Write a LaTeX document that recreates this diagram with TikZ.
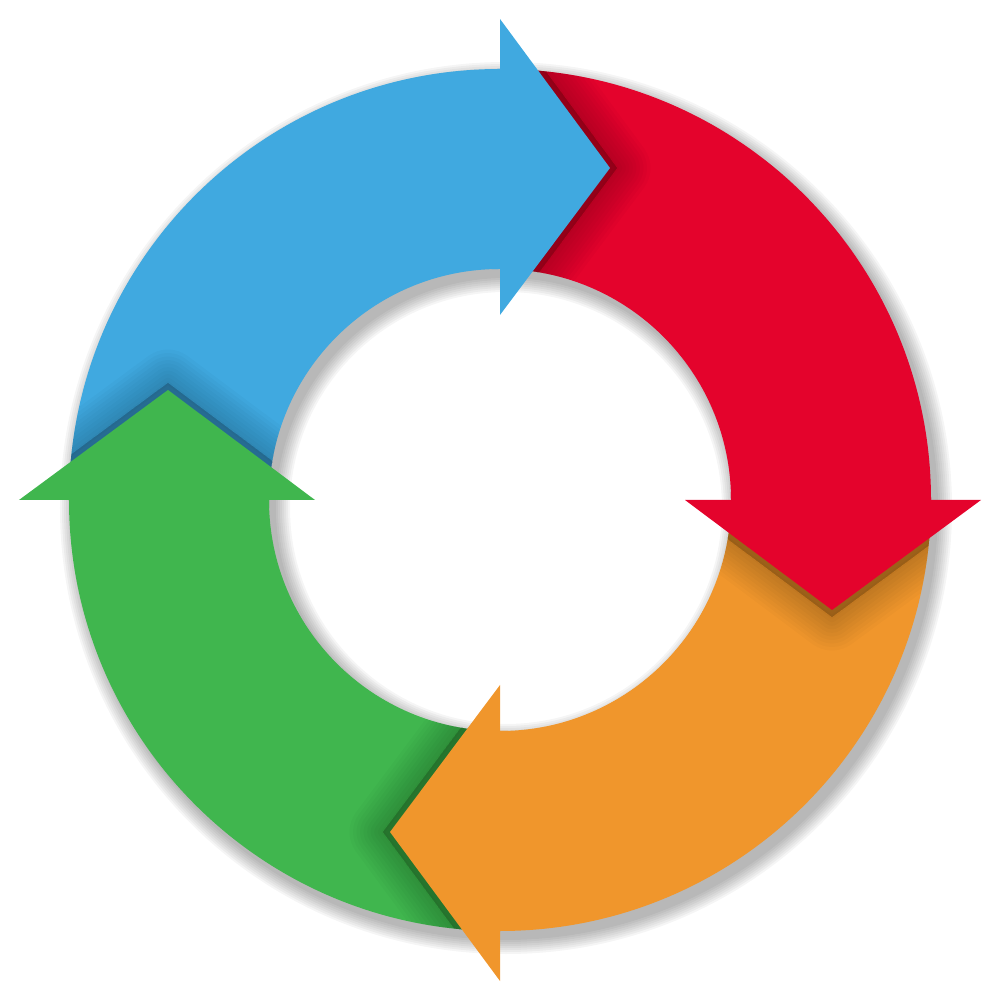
\documentclass[tikz,border=0pt]{standalone}
\usetikzlibrary{calc}

\definecolor{cycleblue}{RGB}{64,169,224}
\definecolor{cyclered}{RGB}{228,3,44}
\definecolor{cycleorange}{RGB}{240,150,44}
\definecolor{cyclegreen}{RGB}{64,182,78}

\begin{document}
\begin{tikzpicture}[x=1cm, y=1cm,
  ring shadow/.style={fill=black, opacity=0.04, even odd rule},
  head shadow/.style={fill=black, draw=black, opacity=0.02, line join=round},
  band/.style={fill=#1},
  head/.style={fill=#1}]
\useasboundingbox (-5,-5) rectangle (5,5);

% soft shadow of the whole ring, thrown down and to the right
\foreach \d in {0.01,0.03,...,0.17}
  \fill[ring shadow, shift={(0.06,-0.08)}] (0,0) circle (4.31+\d) (0,0) circle (2.31-\d);

% bands, each one quarter of the ring
\foreach \s/\c in {180/cycleblue, 90/cyclered, 0/cycleorange, -90/cyclegreen}
  \fill[band=\c] (\s:4.31) arc[start angle=\s, end angle=\s-90, radius=4.31]
    -- (\s-90:2.31) arc[start angle=\s-90, end angle=\s, radius=2.31] -- cycle;

% end of each band again, a little longer, so that no seam shows under its head
\foreach \s/\c in {180/cycleblue, 90/cyclered, 0/cycleorange, -90/cyclegreen}
  \fill[band=\c] (\s-88:4.31) arc[start angle=\s-88, end angle=\s-91, radius=4.31]
    -- (\s-91:2.31) arc[start angle=\s-91, end angle=\s-88, radius=2.31] -- cycle;

% shadow of each head, only on the next band
\foreach \a in {90, 0, -90, -180} {
  \begin{scope}
    \clip (\a-1.5:4.31) arc[start angle=\a-1.5, end angle=\a-90, radius=4.31]
      -- (\a-90:2.31) arc[start angle=\a-90, end angle=\a-1.5, radius=2.31] -- cycle;
    \foreach \w in {1pt, 3pt, 5pt, 7pt, 9pt, 11pt, 13pt, 15pt, 17pt, 19pt}
      \filldraw[head shadow, line width=\w, shift={(\a-90:0.07)}]
        (\a:1.85) -- ($(\a:3.32)+(\a-90:1.10)$) -- (\a:4.81) -- cycle;
  \end{scope}
}

% arrow heads
\foreach \a/\c in {90/cycleblue, 0/cyclered, -90/cycleorange, -180/cyclegreen}
  \fill[head=\c] (\a:1.85) -- ($(\a:3.32)+(\a-90:1.10)$) -- (\a:4.81) -- cycle;
\end{tikzpicture}
\end{document}
